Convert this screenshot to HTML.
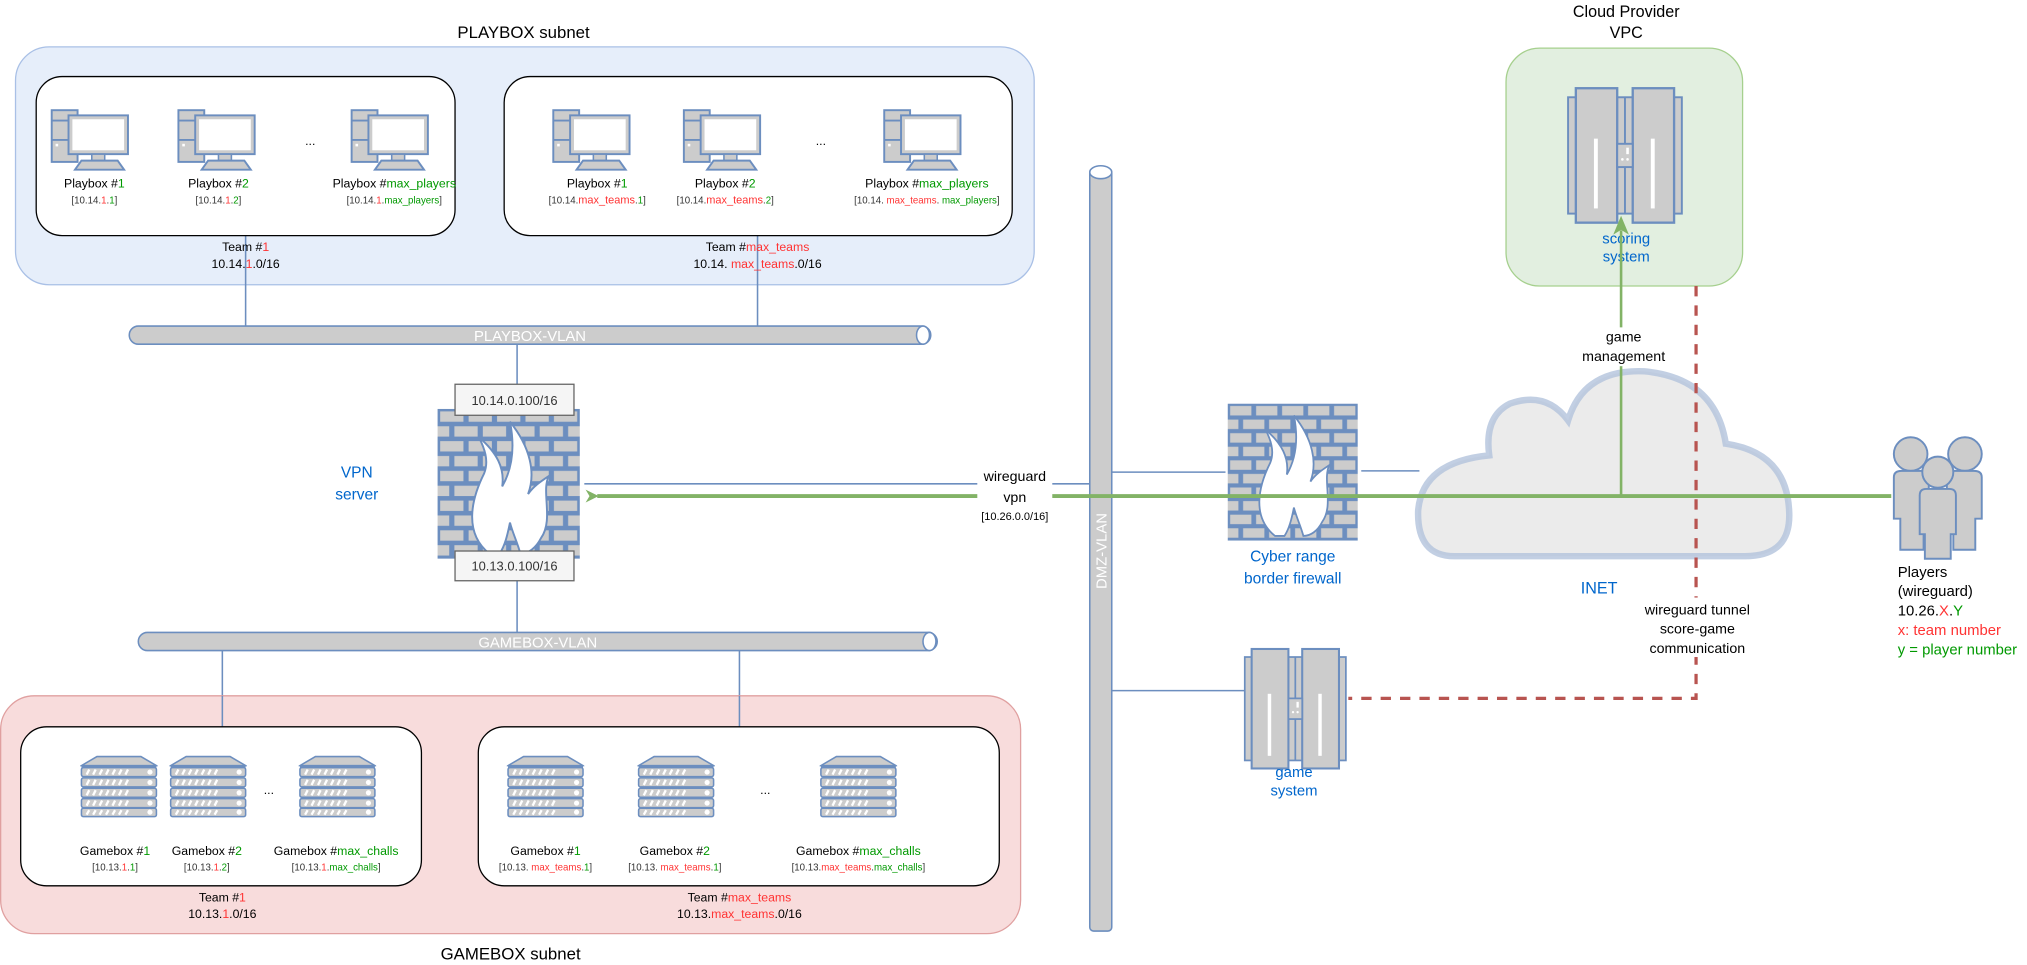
<!DOCTYPE html>
<html><head><meta charset="utf-8"><style>
html,body{margin:0;padding:0;background:#fff;}
svg{display:block;font-family:"Liberation Sans",Arial,sans-serif;}
</style></head><body>
<svg width="2027" height="965" viewBox="0 0 1568 746" xmlns="http://www.w3.org/2000/svg">
<defs>
<symbol id="pc" viewBox="0 0 62 48">
 <rect x="1" y="1" width="20" height="40" fill="#ccc" stroke="#6c8ebf" stroke-width="1.5"/>
 <line x1="1" y1="9" x2="21" y2="9" stroke="#6c8ebf" stroke-width="1.5"/>
 <line x1="1" y1="24" x2="21" y2="24" stroke="#6c8ebf" stroke-width="1.5"/>
 <rect x="4" y="27" width="2" height="2" fill="#fff"/>
 <rect x="14" y="5" width="46" height="30" fill="#ccc" stroke="#6c8ebf" stroke-width="1.5"/>
 <rect x="17" y="8" width="40" height="24" fill="#fff"/>
 <rect x="32" y="35" width="10" height="5" fill="#ccc" stroke="#6c8ebf" stroke-width="1.2"/>
 <polygon points="19,47 24,40 52,40 57,47" fill="#ccc" stroke="#6c8ebf" stroke-width="1.5"/>
</symbol>
<symbol id="rack" viewBox="0 0 60 48">
 <polygon points="1,8 13,1 47,1 59,8" fill="#ccc" stroke="#6c8ebf" stroke-width="1.2"/>
 <rect x="1" y="7.5" width="58" height="2" fill="#6c8ebf"/>
 <g fill="#ccc" stroke="#6c8ebf" stroke-width="1.2">
  <rect x="1" y="9.5" width="58" height="7" rx="1.5"/>
  <rect x="1" y="17.5" width="58" height="7" rx="1.5"/>
  <rect x="1" y="25.5" width="58" height="7" rx="1.5"/>
  <rect x="1" y="33.5" width="58" height="7" rx="1.5"/>
  <rect x="1" y="41" width="58" height="6.5" rx="1.5"/>
 </g>
 <g stroke="#fff" stroke-width="1.8">
  <path d="M5,15L7,11M10,15L12,11M15,15L17,11M20,15L22,11M25,15L27,11M30,15L32,11M35,15L37,11"/>
  <path d="M5,23L7,19M10,23L12,19M15,23L17,19M20,23L22,19M25,23L27,19M30,23L32,19M35,23L37,19"/>
  <path d="M5,31L7,27M10,31L12,27M15,31L17,27M20,31L22,27M25,31L27,27M30,31L32,27M35,31L37,27"/>
  <path d="M5,39L7,35M10,39L12,35M15,39L17,35M20,39L22,35M25,39L27,35M30,39L32,35M35,39L37,35"/>
  <path d="M5,46L7,42.5M10,46L12,42.5M15,46L17,42.5M20,46L22,42.5M25,46L27,42.5M30,46L32,42.5M35,46L37,42.5"/>
 </g>
 <g fill="#fff"><circle cx="54" cy="13" r="2"/><circle cx="54" cy="21" r="2"/><circle cx="54" cy="29" r="2"/><circle cx="54" cy="37" r="2"/><circle cx="54" cy="44" r="2"/></g>
</symbol>
<pattern id="bricks" x="0" y="0" width="44" height="23" patternUnits="userSpaceOnUse">
 <rect width="44" height="23" fill="#6c8ebf"/>
 <rect x="2" y="2" width="18" height="8" fill="#ccc"/>
 <rect x="24" y="2" width="18" height="8" fill="#ccc"/>
 <rect x="-9" y="13.5" width="18" height="8" fill="#ccc"/>
 <rect x="13" y="13.5" width="18" height="8" fill="#ccc"/>
 <rect x="35" y="13.5" width="18" height="8" fill="#ccc"/>
</pattern>
<symbol id="fw" viewBox="0 0 110 116">
 <rect x="0" y="0" width="110" height="116" fill="url(#bricks)"/>
 <path d="M40,112 C20,96 26,70 36,50 C40,40 36,30 32,22 C46,34 52,46 50,60 C58,46 60,30 56,10 C72,30 76,50 70,66 C74,60 80,56 86,52 C80,64 90,86 80,100 C76,108 70,112 64,112 C62,104 58,96 56,88 C54,98 52,106 48,112 Z" fill="#fff" stroke="#6c8ebf" stroke-width="1.5"/>
</symbol>
<symbol id="tall" viewBox="0 0 90 106">
 <rect x="1" y="8" width="88" height="90" fill="#ccc" stroke="#6c8ebf" stroke-width="1.5"/>
 <rect x="7" y="1" width="32" height="104" fill="#ccc" stroke="#6c8ebf" stroke-width="1.8"/>
 <rect x="51" y="1" width="32" height="104" fill="#ccc" stroke="#6c8ebf" stroke-width="1.8"/>
 <line x1="45" y1="8" x2="45" y2="98" stroke="#6c8ebf" stroke-width="1.5"/>
 <rect x="39" y="44" width="12" height="18" fill="#ccc" stroke="#6c8ebf" stroke-width="1.5"/>
 <rect x="21" y="40" width="3" height="54" fill="#fff"/>
 <rect x="65" y="40" width="3" height="54" fill="#fff"/>
 <rect x="46" y="47" width="2" height="5" fill="#fff"/>
 <circle cx="43" cy="56" r="1" fill="#fff"/><circle cx="47" cy="56" r="1" fill="#fff"/>
</symbol>
<symbol id="players" viewBox="0 0 72 96">
 <g fill="#ccc" stroke="#6c8ebf" stroke-width="1.5">
  <circle cx="15" cy="14" r="13"/><circle cx="57" cy="14" r="13"/>
  <path d="M2,32 Q2,27 8,27 L24,27 Q29,27 29,32 L29,64 L25,64 L25,88 L7,88 L7,64 L2,64 Z"/>
  <path d="M43,32 Q43,27 48,27 L64,27 Q70,27 70,32 L70,64 L65,64 L65,88 L48,88 L48,64 L43,64 Z"/>
  <circle cx="36" cy="28" r="12"/>
  <path d="M22,46 Q22,41 27,41 L45,41 Q50,41 50,46 L50,76 L46,76 L46,95 L26,95 L26,76 L22,76 Z"/>
 </g>
</symbol>
<marker id="arrG" markerWidth="10" markerHeight="10" refX="1" refY="5" orient="auto" markerUnits="userSpaceOnUse">
 <path d="M10,0 L0,5 L10,10 L7,5 Z" fill="#82b366"/>
</marker>
</defs>

<text x="405" y="29" font-size="13" text-anchor="middle">PLAYBOX subnet</text>
<rect x="12" y="36" width="788" height="184" rx="26" fill="#e6eefa" stroke="#a9c0e6" stroke-width="1"/>
<line x1="190" y1="182" x2="190" y2="253" stroke="#6c8ebf" stroke-width="1.2"/>
<line x1="586" y1="182" x2="586" y2="253" stroke="#6c8ebf" stroke-width="1.2"/>
<rect x="28" y="59" width="324" height="123" rx="20" fill="#fff" stroke="#000" stroke-width="1"/>
<rect x="390" y="59" width="393" height="123" rx="20" fill="#fff" stroke="#000" stroke-width="1"/>
<use href="#pc" x="39" y="84" width="62" height="48"/>
<use href="#pc" x="137" y="84" width="62" height="48"/>
<use href="#pc" x="271" y="84" width="62" height="48"/>
<use href="#pc" x="427" y="84" width="62" height="48"/>
<use href="#pc" x="528" y="84" width="62" height="48"/>
<use href="#pc" x="683" y="84" width="62" height="48"/>
<g font-size="9.5" text-anchor="middle">
 <text x="240" y="112">...</text><text x="635" y="112">...</text>
 <text x="73" y="145">Playbox #<tspan fill="#009900">1</tspan></text>
 <text x="169" y="145">Playbox #<tspan fill="#009900">2</tspan></text>
 <text x="305" y="145">Playbox #<tspan fill="#009900">max_players</tspan></text>
 <text x="462" y="145">Playbox #<tspan fill="#009900">1</tspan></text>
 <text x="561" y="145">Playbox #<tspan fill="#009900">2</tspan></text>
 <text x="717" y="145">Playbox #<tspan fill="#009900">max_players</tspan></text>
</g>
<g font-size="7.5" text-anchor="middle" fill="#333">
 <text x="73" y="157">[10.14.<tspan fill="#ff3333">1</tspan>.<tspan fill="#009900">1</tspan>]</text>
 <text x="169" y="157">[10.14.<tspan fill="#ff3333">1</tspan>.<tspan fill="#009900">2</tspan>]</text>
 <text x="305" y="157">[10.14.<tspan fill="#ff3333">1</tspan>.<tspan fill="#009900">max_players</tspan>]</text>
 <text x="462" y="157">[10.14.<tspan fill="#ff3333" font-size="8.5">max_teams</tspan>.<tspan fill="#009900">1</tspan>]</text>
 <text x="561" y="157">[10.14.<tspan fill="#ff3333" font-size="8.5">max_teams</tspan>.<tspan fill="#009900">2</tspan>]</text>
 <text x="717" y="157">[10.14. <tspan fill="#ff3333">max_teams</tspan>. <tspan fill="#009900">max_players</tspan>]</text>
</g>
<g font-size="9.5" text-anchor="middle">
 <text x="190" y="194">Team #<tspan fill="#ff3333">1</tspan></text>
 <text x="190" y="207">10.14.<tspan fill="#ff3333">1</tspan>.0/16</text>
 <text x="586" y="194">Team #<tspan fill="#ff3333">max_teams</tspan></text>
 <text x="586" y="207">10.14. <tspan fill="#ff3333">max_teams</tspan>.0/16</text>
</g>

<rect x="100" y="252" width="620" height="14" rx="7" fill="#ccc" stroke="#6c8ebf" stroke-width="1.2"/>
<ellipse cx="714" cy="259" rx="5" ry="7" fill="#fff" stroke="#6c8ebf" stroke-width="1.2"/>
<text x="410" y="263.5" font-size="11.5" fill="#fff" text-anchor="middle">PLAYBOX-VLAN</text>

<line x1="400" y1="266" x2="400" y2="297" stroke="#6c8ebf" stroke-width="1.2"/>
<line x1="400" y1="449" x2="400" y2="490" stroke="#6c8ebf" stroke-width="1.2"/>
<use href="#fw" x="335" y="316" width="117" height="116"/>
<rect x="352" y="297" width="92" height="24" fill="#f5f5f5" stroke="#666" stroke-width="1"/>
<text x="398" y="313" font-size="10" text-anchor="middle" fill="#333">10.14.0.100/16</text>
<rect x="352" y="426" width="92" height="23" fill="#f5f5f5" stroke="#666" stroke-width="1"/>
<text x="398" y="441" font-size="10" text-anchor="middle" fill="#333">10.13.0.100/16</text>
<g font-size="12" fill="#0066cc" text-anchor="middle">
 <text x="276" y="369">VPN</text><text x="276" y="386">server</text>
</g>

<line x1="172" y1="503" x2="172" y2="562" stroke="#6c8ebf" stroke-width="1.2"/>
<line x1="572" y1="503" x2="572" y2="562" stroke="#6c8ebf" stroke-width="1.2"/>
<rect x="107" y="489" width="618" height="14" rx="7" fill="#ccc" stroke="#6c8ebf" stroke-width="1.2"/>
<ellipse cx="719" cy="496" rx="5" ry="7" fill="#fff" stroke="#6c8ebf" stroke-width="1.2"/>
<text x="416" y="500.5" font-size="11.5" fill="#fff" text-anchor="middle">GAMEBOX-VLAN</text>

<rect x="0.5" y="538" width="789" height="184" rx="26" fill="#f8dcdc" stroke="#e0a0a0" stroke-width="1"/>
<line x1="172" y1="538" x2="172" y2="562" stroke="#6c8ebf" stroke-width="1.2"/>
<line x1="572" y1="538" x2="572" y2="562" stroke="#6c8ebf" stroke-width="1.2"/>
<rect x="16" y="562" width="310" height="123" rx="20" fill="#fff" stroke="#000" stroke-width="1"/>
<rect x="370" y="562" width="403" height="123" rx="20" fill="#fff" stroke="#000" stroke-width="1"/>
<use href="#rack" x="62" y="584" width="60" height="48"/>
<use href="#rack" x="131" y="584" width="60" height="48"/>
<use href="#rack" x="231" y="584" width="60" height="48"/>
<use href="#rack" x="392" y="584" width="60" height="48"/>
<use href="#rack" x="493" y="584" width="60" height="48"/>
<use href="#rack" x="634" y="584" width="60" height="48"/>
<g font-size="9.5" text-anchor="middle">
 <text x="208" y="614">...</text><text x="592" y="614">...</text>
 <text x="89" y="661">Gamebox #<tspan fill="#009900">1</tspan></text>
 <text x="160" y="661">Gamebox #<tspan fill="#009900">2</tspan></text>
 <text x="260" y="661">Gamebox #<tspan fill="#009900">max_challs</tspan></text>
 <text x="422" y="661">Gamebox #<tspan fill="#009900">1</tspan></text>
 <text x="522" y="661">Gamebox #<tspan fill="#009900">2</tspan></text>
 <text x="664" y="661">Gamebox #<tspan fill="#009900">max_challs</tspan></text>
</g>
<g font-size="7.5" text-anchor="middle" fill="#333">
 <text x="89" y="673">[10.13.<tspan fill="#ff3333">1</tspan>.<tspan fill="#009900">1</tspan>]</text>
 <text x="160" y="673">[10.13.<tspan fill="#ff3333">1</tspan>.<tspan fill="#009900">2</tspan>]</text>
 <text x="260" y="673">[10.13.<tspan fill="#ff3333">1</tspan>.<tspan fill="#009900">max_challs</tspan>]</text>
 <text x="422" y="673">[10.13. <tspan fill="#ff3333">max_teams</tspan>.<tspan fill="#009900">1</tspan>]</text>
 <text x="522" y="673">[10.13. <tspan fill="#ff3333">max_teams</tspan>.<tspan fill="#009900">1</tspan>]</text>
 <text x="664" y="673">[10.13.<tspan fill="#ff3333">max_teams</tspan>.<tspan fill="#009900">max_challs</tspan>]</text>
</g>
<g font-size="9.5" text-anchor="middle">
 <text x="172" y="697">Team #<tspan fill="#ff3333">1</tspan></text>
 <text x="172" y="710">10.13.<tspan fill="#ff3333">1</tspan>.0/16</text>
 <text x="572" y="697">Team #<tspan fill="#ff3333">max_teams</tspan></text>
 <text x="572" y="710">10.13.<tspan fill="#ff3333">max_teams</tspan>.0/16</text>
</g>
<text x="395" y="742" font-size="13" text-anchor="middle">GAMEBOX subnet</text>

<line x1="452" y1="374" x2="844" y2="374" stroke="#6c8ebf" stroke-width="1.2"/>
<line x1="860" y1="365" x2="948" y2="365" stroke="#6c8ebf" stroke-width="1.2"/>
<line x1="1053" y1="364" x2="1098" y2="364" stroke="#6c8ebf" stroke-width="1.2"/>
<line x1="860" y1="534" x2="963" y2="534" stroke="#6c8ebf" stroke-width="1.2"/>

<rect x="843" y="130" width="17" height="590" rx="3" fill="#ccc" stroke="#6c8ebf" stroke-width="1.2"/>
<ellipse cx="851.5" cy="133" rx="8.5" ry="5" fill="#fff" stroke="#6c8ebf" stroke-width="1.2"/>
<text transform="translate(856,426) rotate(-90)" font-size="11.5" fill="#fff" text-anchor="middle">DMZ-VLAN</text>

<text x="1258" y="13" font-size="12.5" text-anchor="middle">Cloud Provider</text>
<text x="1258" y="29" font-size="12.5" text-anchor="middle">VPC</text>
<rect x="1165" y="37" width="183" height="184" rx="26" fill="#e2efe0" stroke="#a6d08e" stroke-width="1"/>
<use href="#tall" x="1212" y="67" width="90" height="106"/>
<g font-size="11.5" fill="#0066cc" text-anchor="middle">
 <text x="1258" y="188">scoring</text><text x="1258" y="202">system</text>
</g>

<use href="#fw" x="947" y="312" width="106" height="106"/>
<g font-size="12" fill="#0066cc" text-anchor="middle">
 <text x="1000" y="434">Cyber range</text><text x="1000" y="451">border firewall</text>
</g>

<path d="M1125,430 L1350,430 Q1386,430 1384,395 Q1382,350 1335,343 Q1327,292 1272,287 Q1225,285 1213,325 Q1196,302 1168,312 Q1148,322 1152,352 Q1100,357 1097,395 Q1096,430 1125,430 Z" fill="#ebebeb" stroke="#b3c3dc" stroke-width="5" stroke-opacity="0.8"/>
<text x="1237" y="459" font-size="12.5" fill="#0066cc" text-anchor="middle">INET</text>

<use href="#tall" x="962" y="484" width="80" height="128"/>
<g font-size="11.5" fill="#0066cc" text-anchor="middle">
 <text x="1001" y="601">game</text><text x="1001" y="615">system</text>
</g>

<path d="M1312,221 L1312,540 L1043,540" fill="none" stroke="#b85450" stroke-width="2.5" stroke-dasharray="8,7"/>
<rect x="1262" y="462" width="102" height="46" fill="#fff"/>
<g font-size="11" text-anchor="middle">
 <text x="1313" y="475">wireguard tunnel</text>
 <text x="1313" y="490">score-game</text>
 <text x="1313" y="505">communication</text>
</g>

<line x1="1254" y1="383" x2="1254" y2="178" stroke="#82b366" stroke-width="2"/>
<path d="M1254,168 L1259,180 L1254,177 L1249,180 Z" fill="#82b366" stroke="#82b366"/>
<rect x="1215" y="253" width="80" height="30" fill="#fff"/>
<g font-size="11" text-anchor="middle">
 <text x="1256" y="264">game</text><text x="1256" y="279">management</text>
</g>

<line x1="1463" y1="383.5" x2="462" y2="383.5" stroke="#82b366" stroke-width="3" marker-end="url(#arrG)"/>
<rect x="756" y="361" width="58" height="42" fill="#fff"/>
<g text-anchor="middle">
 <text x="785" y="372" font-size="11">wireguard</text>
 <text x="785" y="388" font-size="11">vpn</text>
 <text x="785" y="402" font-size="8.5">[10.26.0.0/16]</text>
</g>

<use href="#players" x="1463" y="337" width="72" height="96"/>
<g font-size="11.5">
 <text x="1468" y="446">Players</text>
 <text x="1468" y="461">(wireguard)</text>
 <text x="1468" y="476">10.26.<tspan fill="#ff3333">X</tspan>.<tspan fill="#009900">Y</tspan></text>
 <text x="1468" y="491" fill="#ff3333">x: team number</text>
 <text x="1468" y="506" fill="#009900">y = player number</text>
</g>
</svg>
</body></html>
